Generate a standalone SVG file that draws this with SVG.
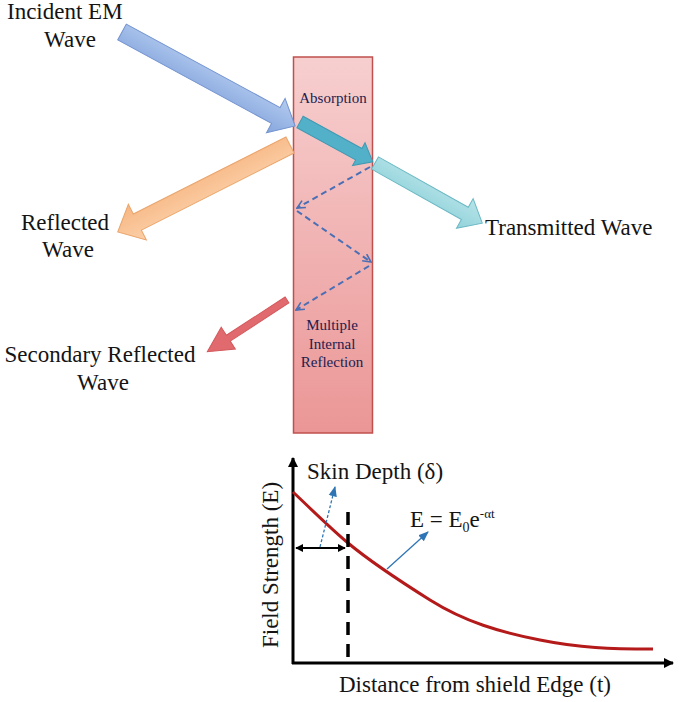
<svg xmlns="http://www.w3.org/2000/svg" width="685" height="702" viewBox="0 0 685 702">
<style>
.lbl{font-family:"Liberation Serif","Times New Roman",serif;font-size:23px;fill:#141414}
.in{font-family:"Liberation Serif","Times New Roman",serif;font-size:15px;fill:#231c4e}
.dash{fill:none;stroke:#4a6fb5;stroke-width:2;stroke-dasharray:6 4;marker-end:url(#open)}
.axis{stroke:#000;stroke-width:3;fill:none}
</style>
<defs>
<linearGradient id="slab" x1="0" y1="0" x2="0" y2="1">
<stop offset="0" stop-color="#f7cfcf"/><stop offset="1" stop-color="#eb9696"/>
</linearGradient>
<linearGradient id="blue" x1="0" y1="0" x2="0" y2="1">
<stop offset="0" stop-color="#b3cbef"/><stop offset="1" stop-color="#86a6dd"/>
</linearGradient>
<linearGradient id="orange" x1="0" y1="0" x2="0" y2="1">
<stop offset="0" stop-color="#fbd0a8"/><stop offset="1" stop-color="#f7b683"/>
</linearGradient>
<linearGradient id="cyan" x1="0" y1="0" x2="0" y2="1">
<stop offset="0" stop-color="#b6e4e9"/><stop offset="1" stop-color="#92d2da"/>
</linearGradient>
<marker id="open" viewBox="0 0 10 10" refX="9" refY="5" markerWidth="5" markerHeight="5" orient="auto" markerUnits="strokeWidth">
<path d="M1,1 L9,5 L1,9" fill="none" stroke="#4a6fb5" stroke-width="1.6"/>
</marker>
<marker id="blk" viewBox="0 0 10 10" refX="9" refY="5" markerWidth="3.5" markerHeight="3.5" orient="auto-start-reverse">
<path d="M0,0 L10,5 L0,10 Z" fill="#000"/>
</marker>
<marker id="blk2" viewBox="0 0 10 10" refX="9" refY="5" markerWidth="4" markerHeight="4" orient="auto-start-reverse">
<path d="M0,0 L10,5 L0,10 Z" fill="#000"/>
</marker>
<marker id="bl" viewBox="0 0 10 10" refX="9" refY="5" markerWidth="8" markerHeight="8" orient="auto">
<path d="M0,1 L10,5 L0,9 Z" fill="#2e75b6"/>
</marker>
</defs>

<g id="shield">
<rect x="293.5" y="57" width="79" height="376" fill="url(#slab)" stroke="#c0504d" stroke-width="1.5"/>
<text class="in" x="333" y="103" text-anchor="middle">Absorption</text>
<text class="in" x="332" y="330" text-anchor="middle">Multiple</text>
<text class="in" x="332" y="349" text-anchor="middle">Internal</text>
<text class="in" x="332" y="367" text-anchor="middle">Reflection</text>
</g>

<g id="incident">
<g transform="translate(122,32) rotate(28.5)">
<polygon points="0,-9 175,-9 175,-19.5 197,0 175,19.5 175,9 0,9" fill="url(#blue)" stroke="#7393cf" stroke-width="1"/>
</g>
<text class="lbl" x="7" y="19">Incident EM</text>
<text class="lbl" x="70" y="47" text-anchor="middle">Wave</text>
</g>

<g id="absorption-arrow">
<g transform="translate(300,122) rotate(28.7)">
<polygon points="0,-6.5 67,-6.5 67,-13 83,0 67,13 67,6.5 0,6.5" fill="#52b0c8" stroke="#3f9ab3" stroke-width="1"/>
</g>
</g>

<g id="transmitted">
<g transform="translate(375,163) rotate(29.3)">
<polygon points="0,-7 103,-7 103,-17 123,0 103,17 103,7 0,7" fill="url(#cyan)" stroke="#6ab8c4" stroke-width="1"/>
</g>
<text class="lbl" x="485" y="235">Transmitted Wave</text>
</g>

<g id="reflected">
<g transform="translate(290,145) rotate(153.2)">
<polygon points="0,-9 171,-9 171,-20 193,0 171,20 171,9 0,9" fill="url(#orange)" stroke="#eaa56c" stroke-width="1"/>
</g>
<text class="lbl" x="65" y="230" text-anchor="middle">Reflected</text>
<text class="lbl" x="68" y="257" text-anchor="middle">Wave</text>
</g>

<g id="secondary">
<g transform="translate(287,300) rotate(147)">
<polygon points="0,-3.5 70,-3.5 70,-13 95,0 70,13 70,3.5 0,3.5" fill="#e06a6d" stroke="#d4585c" stroke-width="1"/>
</g>
<text class="lbl" x="100" y="362" text-anchor="middle">Secondary Reflected</text>
<text class="lbl" x="103" y="390" text-anchor="middle">Wave</text>
</g>

<g id="connectors">
<line class="dash" x1="370" y1="167" x2="297" y2="208"/>
<line class="dash" x1="297" y1="211" x2="371" y2="262"/>
<line class="dash" x1="369" y1="266" x2="296" y2="310"/>
</g>

<g id="graph">
<line class="axis" x1="293" y1="664" x2="293" y2="458" marker-end="url(#blk)"/>
<line class="axis" x1="292" y1="663" x2="673" y2="663" marker-end="url(#blk)"/>
<path d="M293,492 C310,508 330,528 348,543 S395,578 430,600 S500,632 540,640 S610,649 653,649" fill="none" stroke="#b41a1a" stroke-width="3"/>
<line x1="348" y1="512" x2="348" y2="657" stroke="#000" stroke-width="3.5" stroke-dasharray="13 9"/>
<line x1="296" y1="548" x2="345" y2="548" stroke="#000" stroke-width="2" marker-start="url(#blk2)" marker-end="url(#blk2)"/>
<line x1="320" y1="547" x2="335" y2="487" stroke="#2e75b6" stroke-width="1.3" stroke-dasharray="3 2" marker-end="url(#bl)"/>
<line x1="387" y1="569" x2="428" y2="532" stroke="#2e75b6" stroke-width="1.3" marker-end="url(#bl)"/>
<text class="lbl" x="307" y="479">Skin Depth (δ)</text>
<text class="lbl" x="410" y="527">E = E<tspan font-size="14" dy="5">0</tspan><tspan dy="-5">e</tspan><tspan font-size="13" dy="-9">-αt</tspan></text>
<text class="lbl" transform="translate(278,565) rotate(-90)" text-anchor="middle">Field Strength (E)</text>
<text class="lbl" x="475" y="692" text-anchor="middle">Distance from shield Edge (t)</text>
</g>
</svg>
